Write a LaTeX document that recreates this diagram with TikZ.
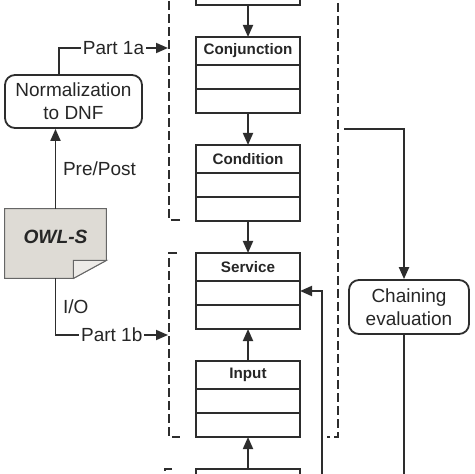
\documentclass[tikz,border=0pt]{standalone}
\usepackage{fontspec}
\setmainfont{Liberation Sans}
\definecolor{linegray}{RGB}{45,45,45}
\definecolor{docgray}{RGB}{222,219,213}
\usetikzlibrary{arrows.meta,positioning}

% title band and two empty rows of a class box
\newcommand{\clsparts}[2]{%
  \node[clstitle] (#1-t) at ([yshift=-7pt]#1.north) {#2};
  \draw[clsline] ([yshift=-14pt]#1.north west) -- ([yshift=-14pt]#1.north east);
  \draw[clsline] ([yshift=-26pt]#1.north west) -- ([yshift=-26pt]#1.north east);}

\begin{document}
\begin{tikzpicture}[x=0.5pt, y=-0.5pt,
    cls/.style={draw=linegray, line width=0.9pt, minimum width=52pt, minimum height=38pt,
                inner sep=0pt, outer sep=0pt},
    clsline/.style={draw=linegray, line width=0.8pt},
    clstitle/.style={font=\bfseries\fontsize{7.6}{9}\selectfont, text=black!85, inner sep=0pt},
    rbox/.style={draw=linegray, line width=0.9pt, rounded corners=5pt, align=center,
                 inner sep=0pt, text=black!85, font=\fontsize{9.5}{11.5}\selectfont},
    lbl/.style={font=\fontsize{9.5}{11}\selectfont, text=black!85},
    arr/.style={-{Triangle[length=6pt,width=5pt]}, line width=0.9pt, draw=linegray},
    flow/.style={line width=1.1pt, draw=linegray},
    grp/.style={draw=linegray, line width=0.7pt, dash pattern=on 4.5pt off 2pt},
    node distance=16pt
  ]
  \useasboundingbox (0,0) rectangle (474,474);
  \clip (0,0) rectangle (474,474);

  % class boxes
  \node[cls] (top) at (248,-33) {};
  \node[cls, below=of top] (conj) {};
  \node[cls, below=of conj] (cond) {};
  \node[cls, below=of cond] (svc) {};
  \node[cls, below=of svc] (inp) {};
  \node[cls, below=of inp] (bot) {};
  \clsparts{top}{}
  \clsparts{conj}{Conjunction}
  \clsparts{cond}{Condition}
  \clsparts{svc}{Service}
  \clsparts{inp}{Input}
  \clsparts{bot}{}

  \draw[arr] (top) -- (conj);
  \draw[arr] (conj) -- (cond);
  \draw[arr] (cond) -- (svc);
  \draw[arr] (inp) -- (svc);
  \draw[arr] (bot) -- (inp);

  % group brackets
  \draw[grp] (180,220) -- (169,220) -- (169,-10);
  \draw[grp] (338,-10) -- (338,437) -- (327,437);
  \draw[grp] (177,253) -- (169,253) -- (169,437) -- (180,437);
  \draw[grp] (172,469) -- (165,469) -- (165,480);
  \coordinate (grp1) at (168,48);
  \coordinate (grp2) at (168,335);
  \coordinate (grp1out) at (344,129);

  % left side
  \node[rbox, minimum width=68.5pt, minimum height=26.5pt] (norm) at (73.5,101.5) {Normalization\\to DNF};
  \node[minimum width=50.5pt, minimum height=34.5pt, inner sep=0pt] (owl) at (55.5,243.5) {};
  \filldraw[fill=docgray, draw=gray!80!black, line width=0.5pt]
    (owl.north west) -- (owl.north east) -- ([yshift=9pt]owl.south east)
    -- ([xshift=-16.5pt]owl.south east) -- (owl.south west) -- cycle;
  \filldraw[fill=docgray!55!white, draw=gray!80!black, line width=0.5pt]
    ([xshift=-16.5pt]owl.south east) -- ([xshift=-16.5pt,yshift=9pt]owl.south east)
    -- ([yshift=9pt]owl.south east) -- cycle;
  \node[font=\bfseries\itshape\fontsize{9.6}{11}\selectfont, text=black!85] (owl-t)
    at ([yshift=3.2pt]owl.center) {OWL-S};

  \draw[arr] (owl.north) -- node[lbl, right] {Pre/Post} (owl.north |- norm.south);
  \draw[arr] ([xshift=-7.25pt]norm.north) |- node[lbl, pos=0.75, fill=white, inner sep=1pt] {Part 1a} (grp1);
  \draw[arr] (owl.south) |- node[lbl, pos=0.25, right] {I/O}
    node[lbl, pos=0.75, fill=white, inner sep=1pt] {Part 1b} (grp2);

  % right side
  \node[rbox, minimum width=60pt, minimum height=27pt] (chain) at (409,307) {Chaining\\evaluation};
  \coordinate (chainout) at (404,480);
  \coordinate (fbin) at (322,480);
  \draw[flow, -{Triangle[length=6pt,width=5pt]}] (grp1out) -| ([xshift=-2.5pt]chain.north);
  \draw[flow] ([xshift=-2.5pt]chain.south) -- (chainout);
  \draw[arr] (fbin) |- (svc.east);
\end{tikzpicture}
\end{document}
